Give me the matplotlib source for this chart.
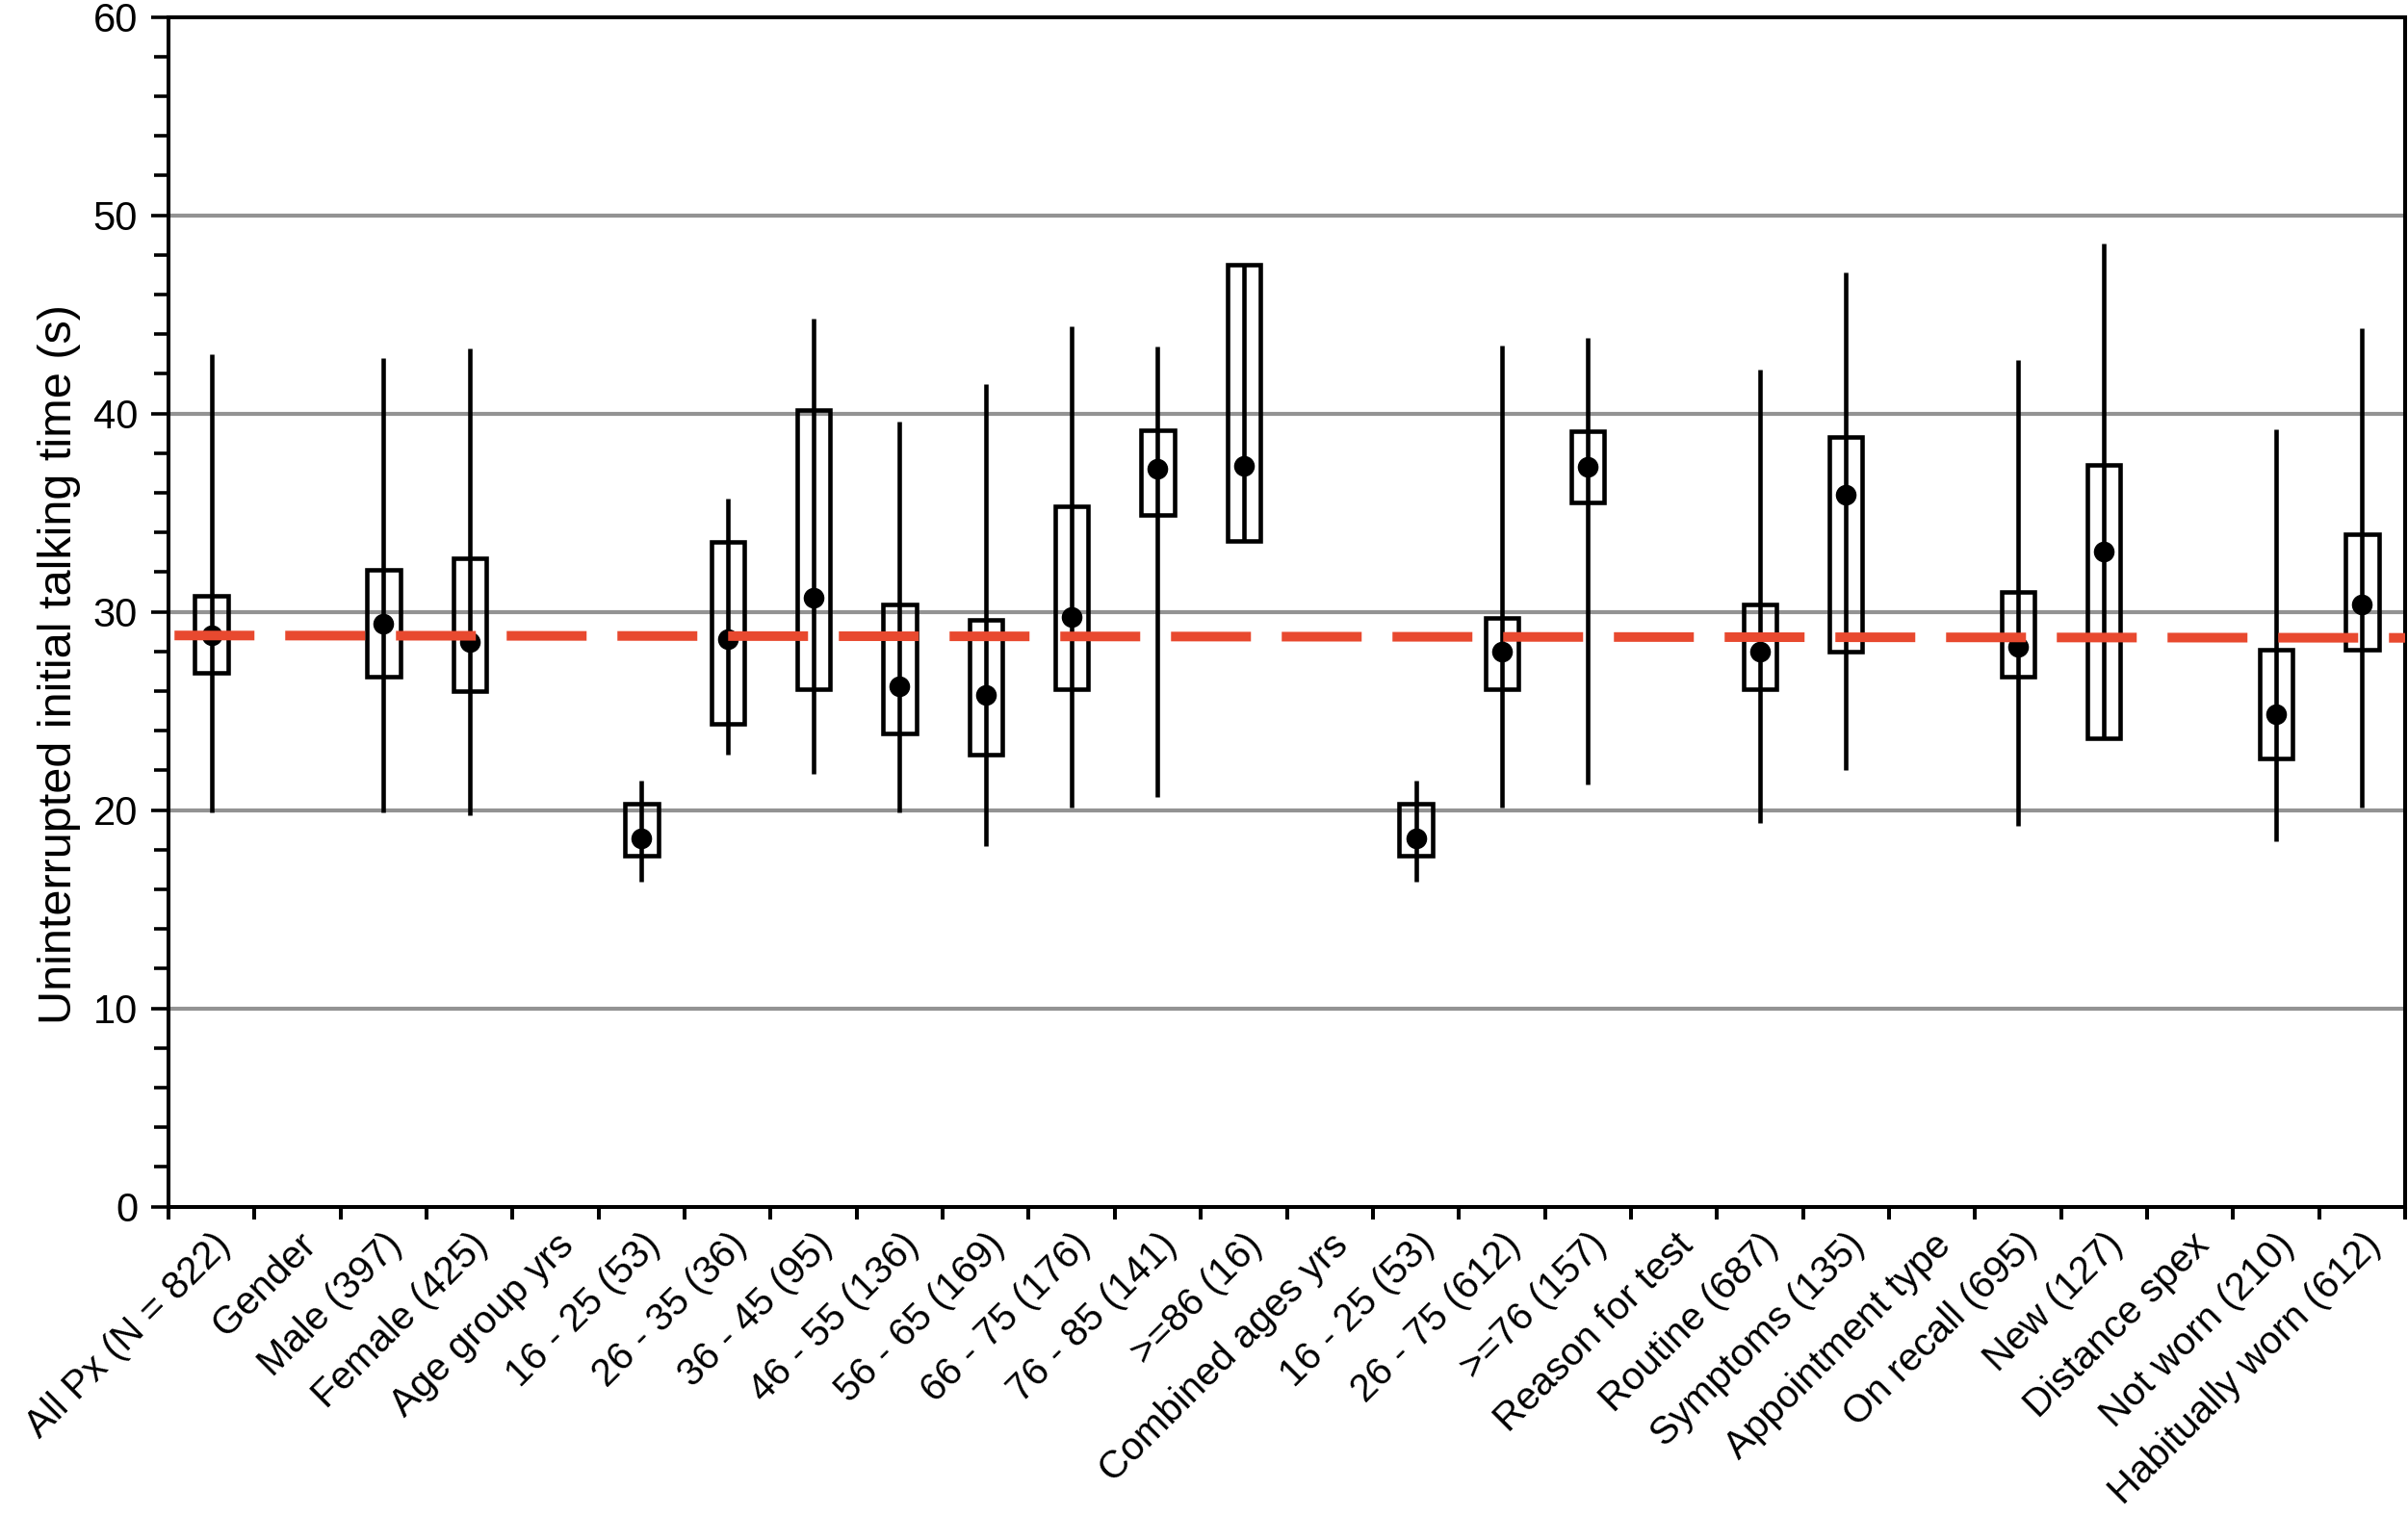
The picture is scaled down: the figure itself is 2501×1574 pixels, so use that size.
import numpy as np
import matplotlib
matplotlib.use("Agg")
import matplotlib.pyplot as plt

categories = ["All Px (N = 822)", "Gender", "Male (397)", "Female (425)", "Age group yrs",
              "16 - 25 (53)", "26 - 35 (36)", "36 - 45 (95)", "46 - 55 (136)", "56 - 65 (169)",
              "66 - 75 (176)", "76 - 85 (141)", ">=86 (16)", "Combined ages yrs", "16 - 25 (53)",
              "26 - 75 (612)", ">=76 (157)", "Reason for test", "Routine (687)", "Symptoms (135)",
              "Appointment type", "On recall (695)", "New (127)", "Distance spex", "Not worn (210)",
              "Habitually worn (612)"]
nan = np.nan
whisker_low = [19.9, nan, 19.9, 19.75, nan, 16.4, 22.8, 21.8, 19.9, 18.2, 20.1, 20.65, 33.55, nan,
               16.4, 20.1, 21.3, nan, 19.35, 22.0, nan, 19.2, 23.6, nan, 18.4, 20.1]
box_low = [26.9, nan, 26.7, 26.0, nan, 17.7, 24.35, 26.1, 23.85, 22.8, 26.1, 34.9, 33.55, nan,
           17.7, 26.1, 35.5, nan, 26.1, 28.0, nan, 26.7, 23.6, nan, 22.6, 28.1]
mean_val = [28.8, nan, 29.4, 28.45, nan, 18.55, 28.6, 30.7, 26.25, 25.8, 29.75, 37.2, 37.35, nan,
            18.55, 28.0, 37.3, nan, 28.0, 35.9, nan, 28.25, 33.05, nan, 24.85, 30.35]
box_high = [30.8, nan, 32.1, 32.7, nan, 20.3, 33.5, 40.15, 30.35, 29.6, 35.3, 39.15, 47.5, nan,
            20.3, 29.7, 39.1, nan, 30.35, 38.8, nan, 31.0, 37.4, nan, 28.1, 33.9]
whisker_high = [43.0, nan, 42.8, 43.3, nan, 21.5, 35.7, 44.8, 39.6, 41.5, 44.4, 43.35, 47.5, nan,
                21.5, 43.4, 43.8, nan, 42.2, 47.1, nan, 42.7, 48.55, nan, 39.2, 44.3]
ref_line = [28.8, 28.68]   # overall mean reference line (left end, right end)
y_ticks = [0, 10, 20, 30, 40, 50, 60]
y_label = "Uninterrupted initial talking time (s)"

plt.rcParams['font.family'] = ['Liberation Sans', 'DejaVu Sans']

fig = plt.figure(figsize=(25.01, 15.74), dpi=100)
ax = fig.add_axes([175/2501, 1 - 1253.5/1574, (2498 - 175)/2501, (1253.5 - 17.5)/1574])

n = len(categories)
x = np.arange(n) + 0.5
wl = np.array(whisker_low); wh = np.array(whisker_high)
bl = np.array(box_low); bh = np.array(box_high); mv = np.array(mean_val)
valid = ~np.isnan(mv)

ax.vlines(x[valid], wl[valid], wh[valid], color='black', lw=3.3, zorder=3, capstyle='butt')
ax.bar(x[valid], bh[valid] - bl[valid], bottom=bl[valid], width=0.385, fill=False,
       edgecolor='black', linewidth=3.3, zorder=4, joinstyle='miter')
ax.plot(x[valid], mv[valid], 'o', color='black', markersize=14.5, zorder=5)

line, = ax.plot([0.07, n], ref_line, color='#e8492f', lw=7.2, zorder=6, solid_capstyle='butt')
line.set_dashes((8.3, 3.2))
line.set_dash_capstyle('butt')

ax.set_xlim(0, n)
ax.set_ylim(0, 60)
ax.set_yticks(y_ticks)
ax.set_yticks(np.arange(0, 61, 2), minor=True)
ax.set_xticks(np.arange(0, n + 1))
ax.set_xticklabels([])
ax.set_xticks(x, minor=True)
ax.set_xticklabels(categories, minor=True, rotation=45, ha='right', va='top',
                   rotation_mode='anchor', fontsize=29)
ax.tick_params(axis='x', which='minor', length=0, pad=15)
ax.tick_params(axis='x', which='major', length=9, width=2.9, direction='out')
ax.tick_params(axis='y', which='major', length=13, width=2.6, labelsize=30, pad=10)
ax.tick_params(axis='y', which='minor', length=11, width=2.6)

for i in [10, 20, 30, 40, 50]:
    ax.axhline(i, color='#939393', lw=3.0, zorder=1)

for s in ax.spines.values():
    s.set_linewidth(2.9)
    s.set_color('black')

ax.text(-0.0488, (1253.5 - 690) / 1236, y_label, transform=ax.transAxes, rotation=90,
        ha='center', va='center', fontsize=35)

fig.savefig('out.png', dpi=100)
